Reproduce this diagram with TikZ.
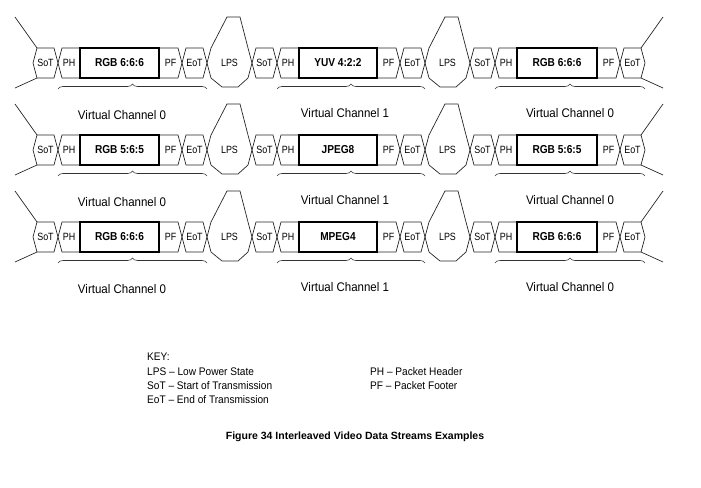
\documentclass[tikz,border=0pt]{standalone}
\usepackage{fontspec}
\setmainfont{Liberation Sans}
\usetikzlibrary{decorations.pathreplacing}
\newcommand\hexc[3]{\draw[line] (#1,#3) -- (#1+4,#3-15) -- (#2-4,#3-15) -- (#2,#3) -- (#2-4,#3+15) -- (#1+4,#3+15) -- cycle;}
\newcommand\lps[2]{\draw[line] (#1,#2) -- (#1+4,#2-15) -- (#1+20,#2-46) -- (#1+33,#2-46) -- (#1+41,#2-15) -- (#1+45,#2) -- (#1+41,#2+15) -- (#1+31,#2+24) -- (#1+15,#2+24) -- (#1+4,#2+15) -- cycle;
\node[small] at (#1+22.5,#2) {LPS};}
\newcommand\pkt[4]{% x1 x2 y label
\hexc{#1}{#1+25}{#3}\node[small] at (#1+12.5,#3){SoT};
\hexc{#1+25}{#2-47}{#3}
\draw[thick box] (#1+47,#3-15) rectangle (#2-70,#3+15);
\node[small] at (#1+36,#3){PH};\node[small] at (#2-58.5,#3){PF};
\node[big] at ({(#1+#2-23)/2},#3){#4};
\hexc{#2-47}{#2-22}{#3}\node[small] at (#2-34.5,#3){EoT};
\draw[brace] (#1+25,#3+26) -- (#2-22,#3+26);}
\tikzset{line/.style={draw=black!85,line width=0.7pt},
thick box/.style={draw=black,line width=1.4pt},
small/.style={font=\fontsize{10.5}{11}\selectfont,inner sep=0pt,xscale=0.85},
big/.style={font=\fontsize{11.5}{12}\bfseries\selectfont,inner sep=0pt,xscale=0.88},
lab/.style={font=\fontsize{12.5}{14}\selectfont,inner sep=0pt,xscale=0.92},
key/.style={font=\fontsize{11}{12}\selectfont,anchor=west,inner sep=0pt,xscale=0.92},
brace/.style={decorate,decoration={brace,amplitude=5pt},line width=0.6pt,draw=black!80}}
\begin{document}
\begin{tikzpicture}[x=1pt,y=-1pt]
\useasboundingbox (0,0) rectangle (701,487);
\foreach \y/\a/\b/\c/\la/\lb/\lc in {63/RGB 6:6:6/YUV 4:2:2/RGB 6:6:6/0/1/0,150/RGB 5:6:5/JPEG8/RGB 5:6:5/0/1/0,237/RGB 6:6:6/MPEG4/RGB 6:6:6/0/1/0}{
\draw[line] (15,\y-46) -- (37,\y-15);
\draw[line] (37,\y+15) -- (15,\y+25);
\draw[line] (663,\y-46) -- (641,\y-15);
\draw[line] (641,\y+15) -- (663,\y+25);
\pkt{33}{229}{\y}{\a}
\lps{207}{\y}
\pkt{252}{447}{\y}{\b}
\lps{425}{\y}
\pkt{470}{667}{\y}{\c}
\node[lab] (v1) at (122,\y+52) {Virtual Channel \la};
\node[lab] (v2) at (345,\y+50) {Virtual Channel \lb};
\node[lab] (v3) at (570,\y+50) {Virtual Channel \lc};
}
\node[key] (k) at (147,357) {KEY:};
\node[key] (k1) at (147,372) {LPS – Low Power State};
\node[key] (k2) at (147,386) {SoT – Start of Transmission};
\node[key] (k3) at (147,400) {EoT – End of Transmission};
\node[key] (k4) at (370,372) {PH – Packet Header};
\node[key] (k5) at (370,386) {PF – Packet Footer};
\node[font=\fontsize{10.5}{11}\bfseries\selectfont] (cap) at (355,437) {Figure 34 Interleaved Video Data Streams Examples};
\end{tikzpicture}
\end{document}
